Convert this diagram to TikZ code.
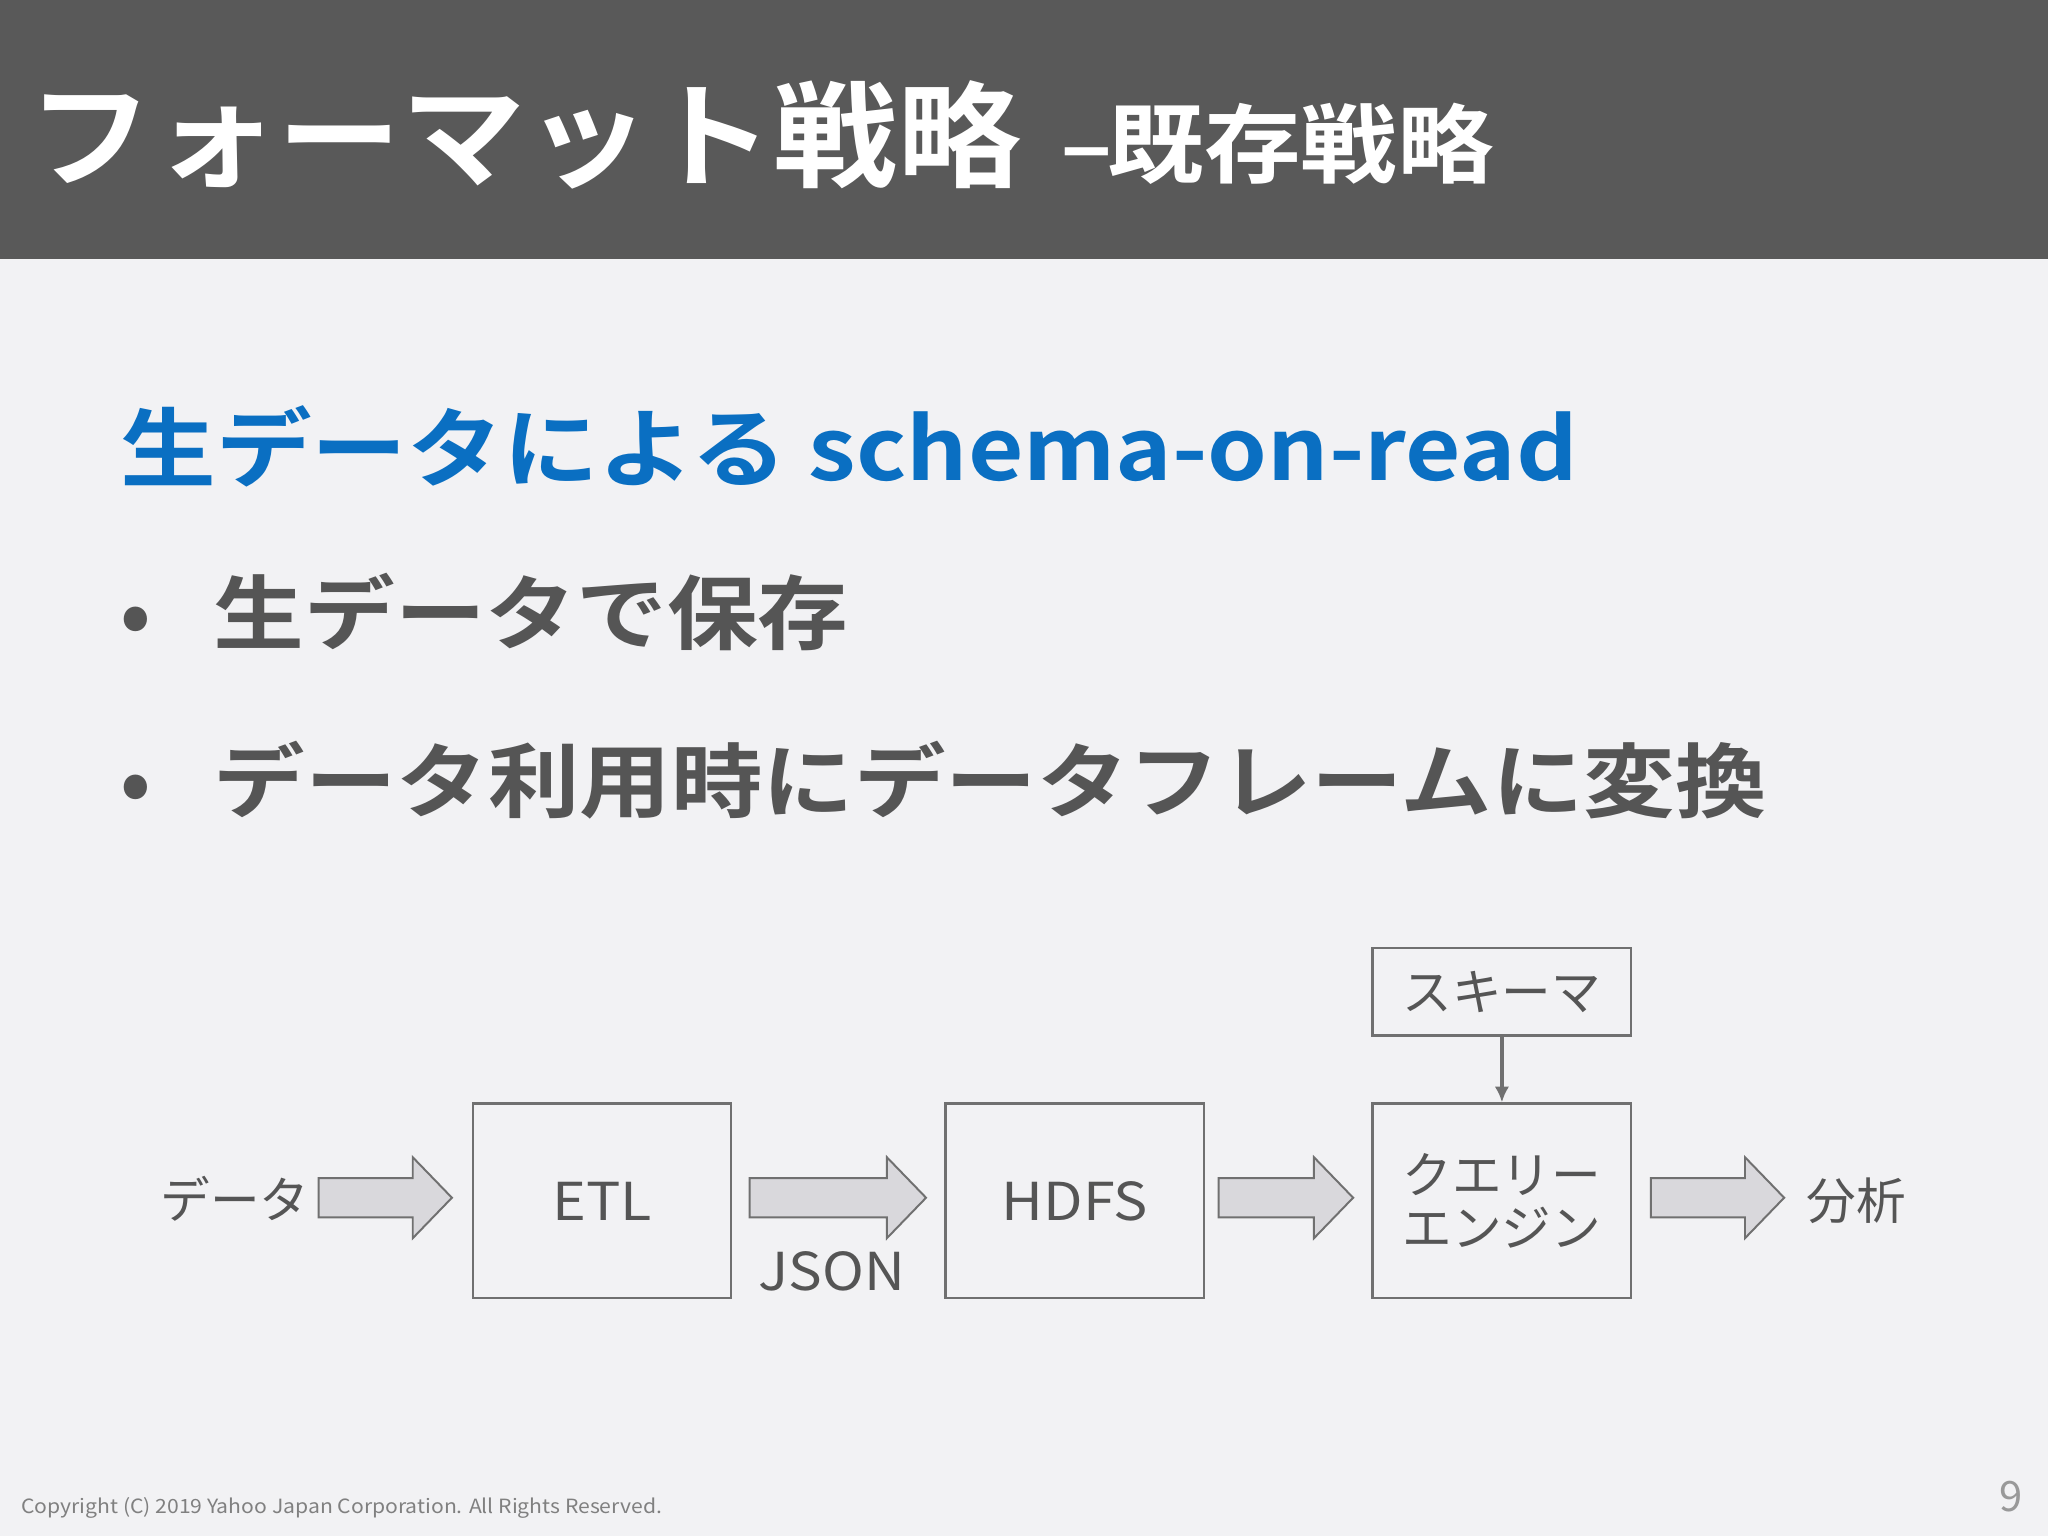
\documentclass[tikz,border=0pt]{standalone}
\usepackage{fontspec}
\usetikzlibrary{arrows.meta}
\setmainfont{Noto Sans CJK JP}
\newfontfamily\jpb{Noto Sans CJK JP Bold}
\definecolor{hdr}{HTML}{595959}
\definecolor{bgc}{HTML}{F2F2F4}
\definecolor{blu}{HTML}{0A6FC2}
\definecolor{txt}{HTML}{555555}
\definecolor{afill}{HTML}{D9D8DC}
\definecolor{bord}{HTML}{707070}
\newcommand\fs[1]{\fontsize{#1pt}{#1pt}\selectfont}
\newcommand\blockarrow[2]{% #1 left x, #2 right x
  \draw[bord,fill=afill,line width=1.5pt] (#1,902) -- (#2-30,902) -- (#2-30,886) -- (#2,917) -- (#2-30,948) -- (#2-30,932) -- (#1,932) -- cycle;}
\tikzset{box/.style={draw=bord,line width=1.8pt,minimum width=198pt,anchor=north west,inner sep=0pt,text=txt},
lbl/.style={text=txt,inner sep=0pt}}
\begin{document}
\begin{tikzpicture}[x=1pt,y=-1pt]
\useasboundingbox (0,0) rectangle (1568,1176);
\fill[bgc] (0,0) rectangle (1568,1176);
\fill[hdr] (0,0) rectangle (1568,198);
\node[anchor=base west,text=white,inner sep=0pt] (title) at (22,137) {\scalebox{1.08}[1]{\jpb\fs{88}フォーマット戦略}};
\node[anchor=base west,text=white,inner sep=0pt] (title2) at (812,135) {\scalebox{1.12}[1]{\jpb\fs{66}–\hspace{-4pt}既存戦略}};
\node[anchor=base west,text=blu,inner sep=0pt] (sub) at (92,368) {\scalebox{1.11}[1]{\jpb\fs{66}生データによる schema-on-read}};
\node[anchor=base west,text=txt,inner sep=0pt] (b1) at (92,493) {\jpb\fs{62}•\hspace{48pt}\scalebox{1.12}[1]{生データで保存}};
\node[anchor=base west,text=txt,inner sep=0pt] (b2) at (92,621) {\jpb\fs{62}•\hspace{48pt}\scalebox{1.13}[1]{データ利用時にデータフレームに変換}};
\node[box,minimum height=149pt] (etl) at (361,844) {\scalebox{1.1}[1]{\fs{40}ETL}};
\node[box,minimum height=149pt] (hdfs) at (723,844) {\scalebox{1.1}[1]{\fs{40}HDFS}};
\node[box,minimum height=149pt,align=center] (qe) at (1050,844) {\fs{38}クエリー\\[8pt]\fs{38}エンジン};
\node[box,minimum height=67pt] (sch) at (1050,725) {\fs{38}スキーマ};
\draw[bord,line width=2.5pt,-{Latex[length=12pt,width=11pt]}] (sch.south) -- (qe.north);
\blockarrow{244}{346}
\blockarrow{574}{709}
\blockarrow{933}{1036}
\blockarrow{1264}{1366}
\node[lbl] (data) at (180,918) {\fs{38}データ};
\node[lbl] (json) at (637,973) {\scalebox{1.08}[1]{\fs{40}JSON}};
\node[lbl] (ana) at (1421,919) {\fs{38}分析};
\node[anchor=base west,text=gray,inner sep=0pt] (copy) at (16,1159) {\scalebox{1.08}[1]{\fs{15}Copyright (C) 2019 Yahoo Japan Corporation. All Rights Reserved.}};
\node[text=gray!80,inner sep=0pt] (pg) at (1540,1146) {\fs{32}9};
\end{tikzpicture}
\end{document}
